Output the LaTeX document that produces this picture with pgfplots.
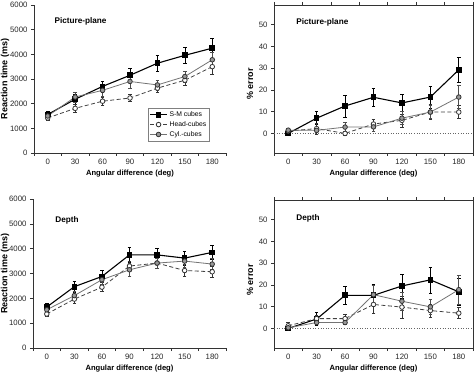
\documentclass[border=0pt]{standalone}
\usepackage{fontspec}
\setmainfont{Liberation Sans}
\usepackage{pgfplots}
\pgfplotsset{compat=1.18}
\tikzset{ttl/.style={anchor=west, font=\fontsize{8.2bp}{10bp}\selectfont\bfseries}}
\begin{document}
\begin{tikzpicture}
\path[use as bounding box] (0bp,0bp) rectangle (474bp,374bp);
\pgfplotsset{
  panel/.style={
    scale only axis, anchor=south west,
    xmin=-0.5, xmax=6.5,
    xtick={0,...,6}, xticklabels={0,30,60,90,120,150,180},
    minor xtick={-0.5,0.5,...,6.5},
    every major x tick/.append style={draw=none},
    tick align=outside,
    major tick length=3bp, minor tick length=3bp,
    axis line style={black!80, line width=0.7bp},
    every tick/.append style={black!80, line width=0.6bp},
    tick label style={font=\fontsize{7.8bp}{9bp}\selectfont, black!85},
    /pgf/number format/assume math mode=true,
    /pgf/number format/1000 sep={},
    scaled y ticks=false,
    every axis x label/.style={at={(axis description cs:0.5,0)}, yshift=-21bp, anchor=center, font=\fontsize{7.6bp}{9bp}\selectfont\bfseries},
    every axis y label/.style={rotate=90, anchor=center, font=\fontsize{9bp}{10bp}\selectfont\bfseries},
    xlabel={Angular difference (deg)},
    clip=false,
  },
  rt/.style={panel, ymin=0, ymax=6000, ytick={0,1000,...,6000},
    axis x line*=bottom, axis y line*=left, ylabel={Reaction time (ms)}},
  er/.style={panel, ymin=-9, ymax=59, ytick={0,10,...,50}, ylabel={\% error}},
  sm/.style={black, line width=1.1bp, mark=square*, mark size=2.3bp, mark options={solid, fill=black},
    error bars/.cd, y dir=both, y explicit, error bar style={solid, line width=0.6bp, black}, error mark options={rotate=90, mark size=1.8bp, line width=0.6bp, black}},
  hd/.style={black!75, line width=0.8bp, dash pattern=on 4bp off 2.5bp, mark=*, mark size=2.3bp, mark options={solid, fill=white, draw=black!80},
    error bars/.cd, y dir=both, y explicit, error bar style={solid, line width=0.6bp, black!80}, error mark options={rotate=90, mark size=1.8bp, line width=0.6bp, black!80}},
  cy/.style={black!55, line width=0.8bp, mark=*, mark size=2.3bp, mark options={solid, fill=black!40, draw=black!80},
    error bars/.cd, y dir=both, y explicit, error bar style={solid, line width=0.6bp, black!70}, error mark options={rotate=90, mark size=1.8bp, line width=0.6bp, black!70}},
}
% Top-left: RT, picture-plane
\begin{axis}[rt, at={(34bp,221bp)}, width=192bp, height=148bp,
  every axis y label/.append style={at={(axis description cs:-0.151,0.5)}},
  legend style={at={(axis description cs:0.594,0.304)}, anchor=north west, font=\fontsize{6.8bp}{8bp}\selectfont, draw=black!50, line width=0.5bp, inner sep=1.2bp, row sep=-0.5bp},
  legend cell align=left]
\addplot[sm] coordinates {(0,1560) +- (0,130) (1,2180) +- (0,200) (2,2700) +- (0,220) (3,3150) +- (0,300) (4,3640) +- (0,320) (5,3960) +- (0,330) (6,4250) +- (0,400)};
\addplot[hd] coordinates {(0,1420) +- (0,100) (1,1810) +- (0,170) (2,2100) +- (0,160) (3,2230) +- (0,150) (4,2630) +- (0,170) (5,2950) +- (0,200) (6,3500) +- (0,300)};
\addplot[cy] coordinates {(0,1500) +- (0,120) (1,2270) +- (0,200) (2,2540) +- (0,250) (3,2900) +- (0,280) (4,2760) +- (0,200) (5,3100) +- (0,230) (6,3780) +- (0,300)};
\legend{S-M cubes, Head-cubes, Cyl.-cubes}
\node[ttl] at (axis description cs:0.089,0.892) {Picture-plane};
\end{axis}
% Top-right: % error, picture-plane
\begin{axis}[er, at={(274bp,221bp)}, width=199bp, height=148bp,
  every axis y label/.append style={at={(axis description cs:-0.121,0.466)}}]
\addplot[black!60, dotted, line width=0.6bp, forget plot] coordinates {(-0.5,0) (6.5,0)};
\addplot[sm] coordinates {(0,0) +- (0,0.5) (1,7) +- (0,3) (2,12.6) +- (0,5) (3,16.6) +- (0,4) (4,14) +- (0,4) (5,16.7) +- (0,5) (6,29.2) +- (0,5.7)};
\addplot[hd] coordinates {(0,1.1) +- (0,1) (1,2.2) +- (0,2.5) (2,0) +- (0,1) (3,4.3) +- (0,2) (4,6) +- (0,3) (5,9.8) +- (0,3.5) (6,9.8) +- (0,3)};
\addplot[cy] coordinates {(0,1.5) +- (0,1) (1,1.4) +- (0,1) (2,2.9) +- (0,2) (3,3) +- (0,2) (4,7) +- (0,3) (5,9.8) +- (0,3) (6,16.7) +- (0,5.3)};
\node[ttl] at (axis description cs:0.095,0.885) {Picture-plane};
\end{axis}
% Bottom-left: RT, depth
\begin{axis}[rt, at={(33bp,26bp)}, width=193bp, height=149bp,
  every axis y label/.append style={at={(axis description cs:-0.145,0.5)}}]
\addplot[sm] coordinates {(0,1650) +- (0,130) (1,2470) +- (0,230) (2,2880) +- (0,230) (3,3750) +- (0,300) (4,3750) +- (0,250) (5,3620) +- (0,280) (6,3850) +- (0,280)};
\addplot[hd] coordinates {(0,1370) +- (0,100) (1,1970) +- (0,150) (2,2450) +- (0,180) (3,3300) +- (0,200) (4,3420) +- (0,200) (5,3120) +- (0,250) (6,3070) +- (0,230)};
\addplot[cy] coordinates {(0,1540) +- (0,120) (1,2110) +- (0,180) (2,2750) +- (0,200) (3,3150) +- (0,250) (4,3420) +- (0,200) (5,3500) +- (0,250) (6,3380) +- (0,230)};
\node[ttl] at (axis description cs:0.098,0.859) {Depth};
\end{axis}
% Bottom-right: % error, depth
\begin{axis}[er, at={(274bp,26bp)}, width=199bp, height=148bp,
  every axis y label/.append style={at={(axis description cs:-0.121,0.459)}}]
\addplot[black!60, dotted, line width=0.6bp, forget plot] coordinates {(-0.5,0) (6.5,0)};
\addplot[sm] coordinates {(0,0) +- (0,0.5) (1,4.3) +- (0,3) (2,15.2) +- (0,4) (3,15.2) +- (0,5) (4,19.5) +- (0,5.5) (5,22.3) +- (0,6) (6,16.8) +- (0,6)};
\addplot[hd] coordinates {(0,1.2) +- (0,1.5) (1,4.5) +- (0,1.5) (2,4.5) +- (0,2) (3,11) +- (0,4) (4,9.8) +- (0,5) (5,8.2) +- (0,3) (6,7) +- (0,2.5)};
\addplot[cy] coordinates {(0,0.3) +- (0,1) (1,2.7) +- (0,1) (2,2.7) +- (0,1) (3,15.5) +- (0,4.5) (4,12.5) +- (0,4) (5,9.9) +- (0,3.5) (6,17.8) +- (0,6.5)};
\node[ttl] at (axis description cs:0.095,0.878) {Depth};
\end{axis}
\end{tikzpicture}
\end{document}
